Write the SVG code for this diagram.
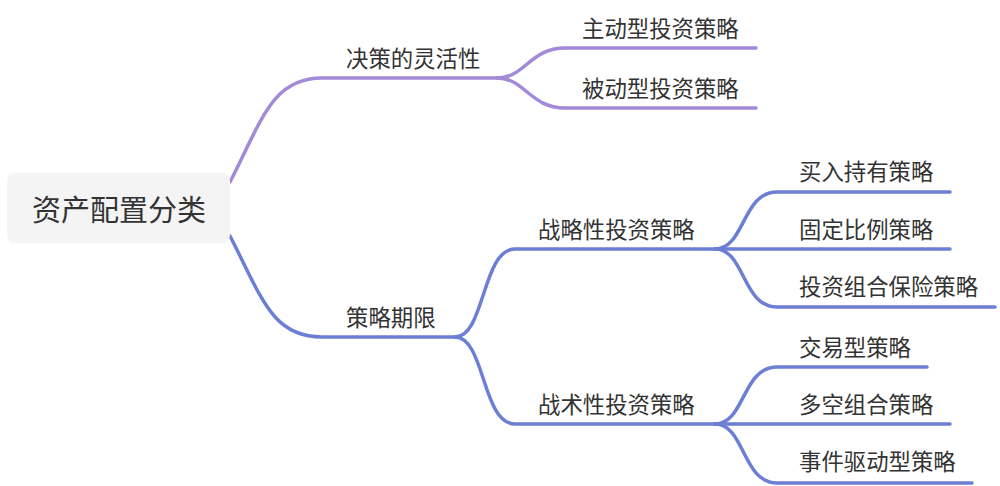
<svg xmlns="http://www.w3.org/2000/svg" width="1000" height="486" viewBox="0 0 1000 486">
<style>
text{font-family:"Noto Sans CJK SC","Noto Sans",sans-serif;fill:#333;dominant-baseline:central}
.t{font-size:22.4px}
.root{font-size:29px}
.c{fill:none;stroke-width:3.5;stroke-linecap:round;stroke-linejoin:round}
.p{stroke:#a28ad8}
.b{stroke:#6c7fd5}
</style>
<rect width="1000" height="486" fill="#fff"/>
<g id="connectors">
<path class="c p" d="M230 182 C262 120 272 78 322 78 L497 78"/>
<path class="c p" d="M497 78 C525 78 530 48 565 48 L756 48"/>
<path class="c p" d="M497 78 C525 78 530 108 565 108 L756 108"/>
<path class="c b" d="M230 236 C262 298 272 337 322 337 L455 337"/>
<path class="c b" d="M455 337 C485 337 482 249 515 249 L715 249"/>
<path class="c b" d="M455 337 C485 337 482 424 515 424 L715 424"/>
<path class="c b" d="M715 249 C745 249 742 192 777 192 L950 192"/>
<path class="c b" d="M715 249 L950 249"/>
<path class="c b" d="M715 249 C745 249 742 307 777 307 L995 307"/>
<path class="c b" d="M715 424 C745 424 742 367 777 367 L927 367"/>
<path class="c b" d="M715 424 L950 424"/>
<path class="c b" d="M715 424 C745 424 742 483 777 483 L972 483"/>
</g>
<g id="root"><rect x="7" y="173" width="223" height="70" rx="8" fill="#f4f4f4"/><text class="root" x="119" y="208" text-anchor="middle">资产配置分类</text></g>
<g id="n1"><text class="t" x="346" y="57">决策的灵活性</text></g>
<g id="n11"><text class="t" x="582" y="27">主动型投资策略</text></g>
<g id="n12"><text class="t" x="582" y="87">被动型投资策略</text></g>
<g id="n2"><text class="t" x="346" y="316">策略期限</text></g>
<g id="n21"><text class="t" x="538" y="228">战略性投资策略</text></g>
<g id="n211"><text class="t" x="799" y="170">买入持有策略</text></g>
<g id="n212"><text class="t" x="799" y="228">固定比例策略</text></g>
<g id="n213"><text class="t" x="799" y="285">投资组合保险策略</text></g>
<g id="n22"><text class="t" x="538" y="403">战术性投资策略</text></g>
<g id="n221"><text class="t" x="799" y="346">交易型策略</text></g>
<g id="n222"><text class="t" x="799" y="403">多空组合策略</text></g>
<g id="n223"><text class="t" x="799" y="460">事件驱动型策略</text></g>
</svg>
